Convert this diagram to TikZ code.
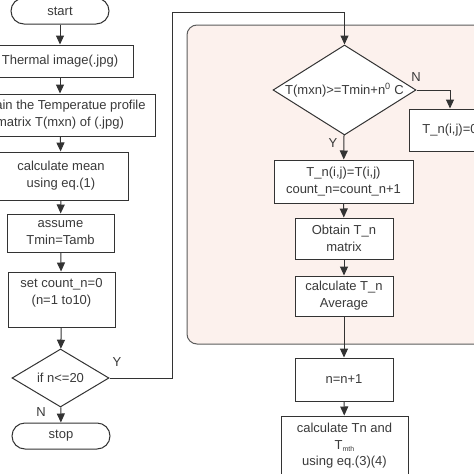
\documentclass[tikz,border=0pt]{standalone}
\usepackage{fontspec}
\setmainfont{Liberation Sans}
\usetikzlibrary{shapes.geometric,arrows.meta}
\definecolor{ln}{HTML}{333333}
\definecolor{tx}{HTML}{3A3A3A}
\definecolor{pinkbg}{HTML}{FCF1ED}
\tikzset{
  every node/.style={font=\fontsize{13}{17}\selectfont, text=tx},
  box/.style={draw=ln, line width=1pt, fill=white, rectangle, align=center, inner sep=0pt},
  term/.style={draw=ln, line width=1pt, fill=white, rectangle, rounded corners=13pt, inner sep=0pt},
  decide/.style={draw=ln, line width=1pt, fill=white, diamond, inner sep=0pt},
  conn/.style={draw=ln, line width=1pt},
  arr/.style={conn, -{Triangle[width=8pt,length=9pt]}},
  lbl/.style={inner sep=0pt}
}
\begin{document}
\begin{tikzpicture}[x=1pt,y=-1pt]
\useasboundingbox (0,0) rectangle (474,474);
\clip (0,0) rectangle (474,474);
\fill[white] (0,0) rectangle (474,474);
% background group
\draw[draw=ln!80, line width=1pt, fill=pinkbg, rounded corners=10pt] (187,25) rectangle (500,344);
% left column
\node[term, minimum width=98pt, minimum height=26pt] (start) at (60,11) {start};
\node[box, minimum width=146pt, minimum height=32pt] (thermal) at (60,61) {Thermal image(.jpg)};
\node[box, minimum width=190pt, minimum height=42pt] (temp) at (60,115) {Obtain the Temperatue profile\\matrix T(mxn) of (.jpg)};
\node[box, minimum width=134pt, minimum height=48pt] (mean) at (61,176) {calculate mean\\using eq.(1)};
\node[box, minimum width=107pt, minimum height=38pt] (assume) at (60.5,233) {assume\\Tmin=Tamb};
\node[box, minimum width=107pt, minimum height=55pt] (setc) at (61.5,299.5) {set count\_n=0\\(n=1 to10)\\\mbox{}};
\node[decide, minimum width=97pt, minimum height=58pt, aspect=1.67] (dec1) at (60.5,378) {if n<=20};
\node[term, minimum width=98pt, minimum height=26pt] (stop) at (61,436) {stop};
% right column
\node[decide, minimum width=143pt, minimum height=90pt, aspect=1.59] (dec2) at (344.5,90) {T(mxn)>=Tmin+n\textsuperscript{0} C};
\node[box, minimum width=82pt, minimum height=42pt] (tn0) at (450,130) {T\_n(i,j)=0};
\node[box, minimum width=139pt, minimum height=43pt] (tnij) at (343.5,181.5) {T\_n(i,j)=T(i,j)\\count\_n=count\_n+1};
\node[box, minimum width=98pt, minimum height=41pt] (obtain) at (344,238.5) {Obtain T\_n\\matrix};
\node[box, minimum width=98pt, minimum height=40pt] (avg) at (344,296) {calculate T\_n\\Average};
\node[box, minimum width=98pt, minimum height=43pt] (incr) at (344,379.5) {n=n+1};
\node[box, minimum width=127pt, minimum height=60pt, font=\fontsize{13}{16.5}\selectfont] (calc) at (344.5,446) {calculate Tn and\\T{\fontsize{7}{7}\selectfont\raisebox{-2pt}{mth}}\\using eq.(3)(4)};
% connectors left
\draw[arr] (start) -- (thermal);
\draw[arr] (thermal) -- (temp);
\draw[arr] (temp) -- (mean);
\draw[arr] (mean) -- (assume);
\draw[arr] (assume) -- (setc);
\draw[arr] (setc) -- (dec1);
\draw[arr] (dec1) -- (stop);
\node[lbl] (nlab1) at (41,412) {N};
\node[lbl] (ylab1) at (117,362) {Y};
% loop to right
\coordinate (up) at (172,12);
\draw[arr] (dec1.east) -| (up) -| (dec2.north);
% right connectors
\draw[arr] (dec2.east) -| (tn0.north);
\node[lbl] (nlab2) at (416,77) {N};
\draw[arr] (dec2) -- (tnij);
\node[lbl] (ylab2) at (333,143) {Y};
\draw[arr] (tnij) -- (obtain);
\draw[arr] (obtain) -- (avg);
\draw[arr] (avg) -- (incr);
\draw[arr] (incr) -- (calc);
\end{tikzpicture}
\end{document}
